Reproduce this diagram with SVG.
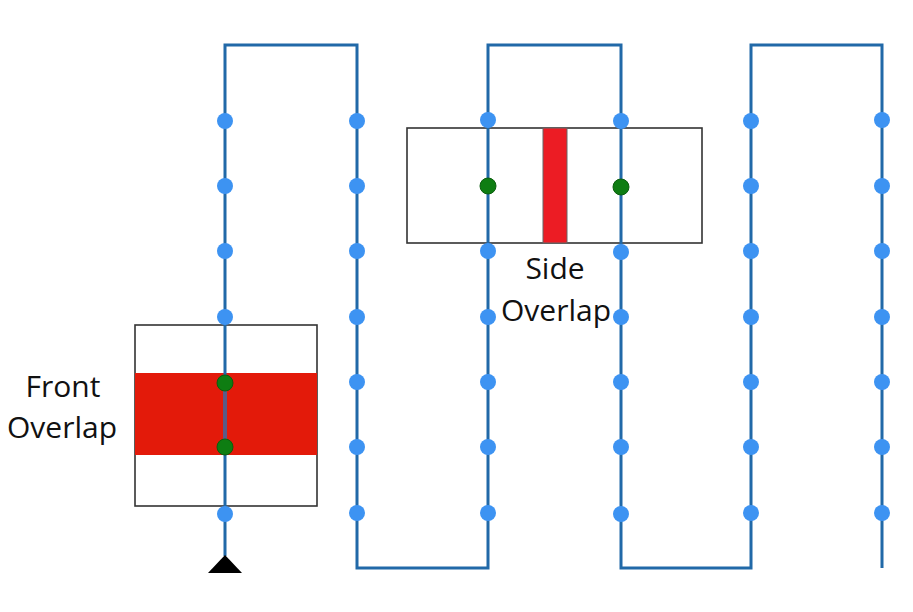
<svg xmlns="http://www.w3.org/2000/svg" width="913" height="612" viewBox="0 0 913 612">
<style>
.route{fill:none;stroke:#2169a8;stroke-width:3;stroke-linejoin:miter}
.wp{fill:#3d93f2}
.gp{fill:#0e7d12;stroke:#0b5e0e;stroke-width:1}
.box{fill:#ffffff;stroke:#333333;stroke-width:1.6}
.lbl{font-family:"Open Sans","Liberation Sans",sans-serif;font-size:30px;fill:#111111;text-anchor:middle}
</style>
<rect width="913" height="612" fill="#ffffff"/>
<g id="front-box">
<rect class="box" x="135" y="325" width="182" height="181"/>
<rect x="135" y="373" width="182" height="82" fill="#e31a0a"/>
</g>
<g id="side-box">
<rect class="box" x="407" y="128" width="295" height="115"/>
<rect x="543" y="128" width="24" height="115" fill="#ec1c24" stroke="#666666" stroke-width="1"/>
</g>
<g id="connectors">
<path class="route" d="M225 556 V45 H357 V568 H488 V45 H621 V568 H751 V45 H882 V568"/>
<line x1="225" y1="383" x2="225" y2="447" stroke="#5a5b86" stroke-width="4"/>
</g>
<g id="waypoints">
<circle class="wp" cx="225" cy="121" r="8"/>
<circle class="wp" cx="225" cy="186" r="8"/>
<circle class="wp" cx="225" cy="251" r="8"/>
<circle class="wp" cx="225" cy="317" r="8"/>
<circle class="wp" cx="225" cy="514" r="8"/>
<circle class="wp" cx="357" cy="121" r="8"/>
<circle class="wp" cx="357" cy="186" r="8"/>
<circle class="wp" cx="357" cy="251" r="8"/>
<circle class="wp" cx="357" cy="317" r="8"/>
<circle class="wp" cx="357" cy="382" r="8"/>
<circle class="wp" cx="357" cy="447" r="8"/>
<circle class="wp" cx="357" cy="513" r="8"/>
<circle class="wp" cx="488" cy="120" r="8"/>
<circle class="wp" cx="488" cy="251" r="8"/>
<circle class="wp" cx="488" cy="317" r="8"/>
<circle class="wp" cx="488" cy="382" r="8"/>
<circle class="wp" cx="488" cy="447" r="8"/>
<circle class="wp" cx="488" cy="513" r="8"/>
<circle class="wp" cx="621" cy="121" r="8"/>
<circle class="wp" cx="621" cy="252" r="8"/>
<circle class="wp" cx="621" cy="317" r="8"/>
<circle class="wp" cx="621" cy="382" r="8"/>
<circle class="wp" cx="621" cy="447" r="8"/>
<circle class="wp" cx="621" cy="514" r="8"/>
<circle class="wp" cx="751" cy="121" r="8"/>
<circle class="wp" cx="751" cy="186" r="8"/>
<circle class="wp" cx="751" cy="251" r="8"/>
<circle class="wp" cx="751" cy="317" r="8"/>
<circle class="wp" cx="751" cy="382" r="8"/>
<circle class="wp" cx="751" cy="447" r="8"/>
<circle class="wp" cx="751" cy="513" r="8"/>
<circle class="wp" cx="882" cy="120" r="8"/>
<circle class="wp" cx="882" cy="186" r="8"/>
<circle class="wp" cx="882" cy="251" r="8"/>
<circle class="wp" cx="882" cy="317" r="8"/>
<circle class="wp" cx="882" cy="382" r="8"/>
<circle class="wp" cx="882" cy="447" r="8"/>
<circle class="wp" cx="882" cy="513" r="8"/>
</g>
<g id="overlap-points">
<circle class="gp" cx="225" cy="383" r="8"/>
<circle class="gp" cx="225" cy="447" r="8"/>
<circle class="gp" cx="488" cy="186" r="8"/>
<circle class="gp" cx="621" cy="187" r="8"/>
</g>
<g id="start-marker">
<polygon points="225,555 208,573 242,573" fill="#000000"/>
</g>
<g id="label-front">
<text class="lbl" x="63" y="397">Front</text>
<text class="lbl" x="62" y="438">Overlap</text>
</g>
<g id="label-side">
<text class="lbl" x="555" y="279">Side</text>
<text class="lbl" x="556" y="321">Overlap</text>
</g>
</svg>
